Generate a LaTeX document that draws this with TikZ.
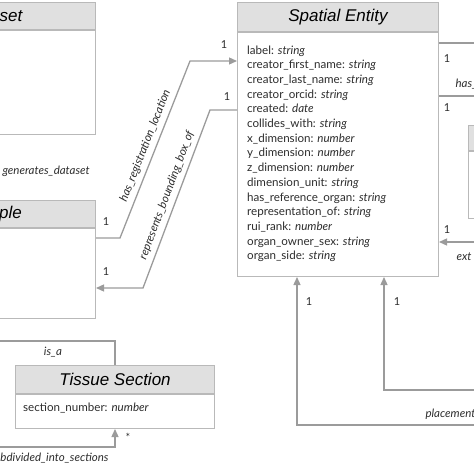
\documentclass[tikz,border=0pt]{standalone}
\usepackage{fontspec}
\setmainfont{Lato}
\newfontfamily\headfont{Liberation Sans}
\usetikzlibrary{arrows.meta}
\definecolor{boxline}{RGB}{185,185,185}
\definecolor{headfill}{RGB}{224,224,224}
\definecolor{linkline}{RGB}{155,155,155}
\definecolor{txt}{RGB}{45,45,45}

\begin{document}
\begin{tikzpicture}[x=1pt, y=-1pt,
    head style/.style={draw=boxline, fill=headfill, line width=1pt, anchor=north west, inner sep=0pt, font=\headfont\itshape\fontsize{17}{20}\selectfont, text=black},
    body style/.style={draw=boxline, fill=white, line width=1pt, anchor=north west, inner sep=0pt},
    attr style/.style={anchor=base west, inner sep=0pt, font=\fontsize{11.6}{13}\selectfont, text=txt},
    link style/.style={draw=linkline, line width=1.3pt},
    arrow style/.style={-{Triangle[length=8pt, width=7pt]}},
    label style/.style={font=\itshape\fontsize{11.5}{13}\selectfont, text=txt},
    mult style/.style={font=\fontsize{11}{13}\selectfont, text=txt}]
    \useasboundingbox (0,0) rectangle (474,474);
    \clip (0,0) rectangle (474,474);

    \pgfmathsetmacro{\step}{14.71}

    % boxes
    \node[head style, minimum width=205pt, minimum height=27pt] (dataset head) at (-110,2) {Dataset};
    \node[body style, minimum width=205pt, minimum height=104pt] (dataset) at (dataset head.south west) {};

    \node[head style, minimum width=205pt, minimum height=27pt] (sample head) at (-110,200) {Sample};
    \node[body style, minimum width=205pt, minimum height=90pt] (sample) at (sample head.south west) {};

    \node[head style, minimum width=201pt, minimum height=29pt] (se head) at (237,2) {Spatial Entity};
    \node[body style, minimum width=201pt, minimum height=244pt] (se) at (se head.south west) {};

    \node[head style, minimum width=199pt, minimum height=28pt] (tissue head) at (15,365) {Tissue Section};
    \node[body style, minimum width=199pt, minimum height=34pt] (tissue) at (tissue head.south west) {};

    \node[head style, minimum width=120pt, minimum height=25pt] (right head) at (468,125) {};
    \node[body style, minimum width=120pt, minimum height=67pt] (right) at (right head.south west) {};

    \foreach \a/\t [count=\i] in {label/string, creator\_first\_name/string, creator\_last\_name/string,
        creator\_orcid/string, created/date, collides\_with/string, x\_dimension/number,
        y\_dimension/number, z\_dimension/number, dimension\_unit/string,
        has\_reference\_organ/string, representation\_of/string, rui\_rank/number,
        organ\_owner\_sex/string, organ\_side/string}
        \node[attr style] (se attr\i) at (247, {54+\step*(\i-1)}) {\a: \textit{\t}};

    \node[attr style] (tissue attr) at (23,411) {section\_number: \textit{number}};

    % links to the left
    \coordinate (reg a) at (120,238);
    \coordinate (reg b) at (190,61);
    \draw[link style, arrow style] (sample.east |- reg a) -- (reg a)
        -- node[label style, sloped, above=1pt] {has\_registration\_location} (reg b) -- (se.west |- reg b);

    \coordinate (bb a) at (210,110);
    \coordinate (bb b) at (143,288);
    \draw[link style, arrow style] (se.west |- bb a) -- (bb a)
        -- node[label style, sloped, above=1pt] {represents\_bounding\_box\_of} (bb b) -- (sample.east |- bb b);

    \node[mult style] at (106,222) {1};
    \node[mult style] at (224,45) {1};
    \node[mult style] at (227,97) {1};
    \node[mult style] at (106,272) {1};

    \node[label style, anchor=west] at (-1,171) {generates\_dataset};

    % tissue section
    \coordinate (isa a) at (-5,341);
    \draw[link style] (isa a) -| (tissue head.north);
    \node[label style] at (53,352) {is\_a};

    \coordinate (sub a) at (-5,447);
    \draw[link style, arrow style] (sub a) -| (tissue.south);
    \node[label style, anchor=east] at (112,458) {subdivided\_into\_sections};
    \node[mult style] at (128,437) {*};

    % links below
    \coordinate (pl a) at (297,425);
    \coordinate (pl b) at (384,390);
    \draw[link style, arrow style] (480,425) -- (pl a) -- (se.south -| pl a);
    \draw[link style, arrow style] (480,390) -- (pl b) -- (se.south -| pl b);
    \node[mult style] at (309,302) {1};
    \node[mult style] at (397,302) {1};
    \node[label style, anchor=west] at (422,414) {placement\_};

    % links to the right
    \coordinate (has a) at (480,43);
    \coordinate (has b) at (480,96);
    \coordinate (ext a) at (480,242);
    \draw[link style] (se.east |- has a) -- (has a);
    \draw[link style] (se.east |- has b) -- (has b);
    \draw[link style, arrow style] (ext a) -- (se.east |- ext a);
    \node[mult style] at (447,59) {1};
    \node[mult style] at (447,108) {1};
    \node[mult style] at (447,230) {1};
    \node[label style, anchor=west] at (452,84) {has\_};
    \node[label style, anchor=west] at (453,257) {ext};

\end{tikzpicture}
\end{document}
